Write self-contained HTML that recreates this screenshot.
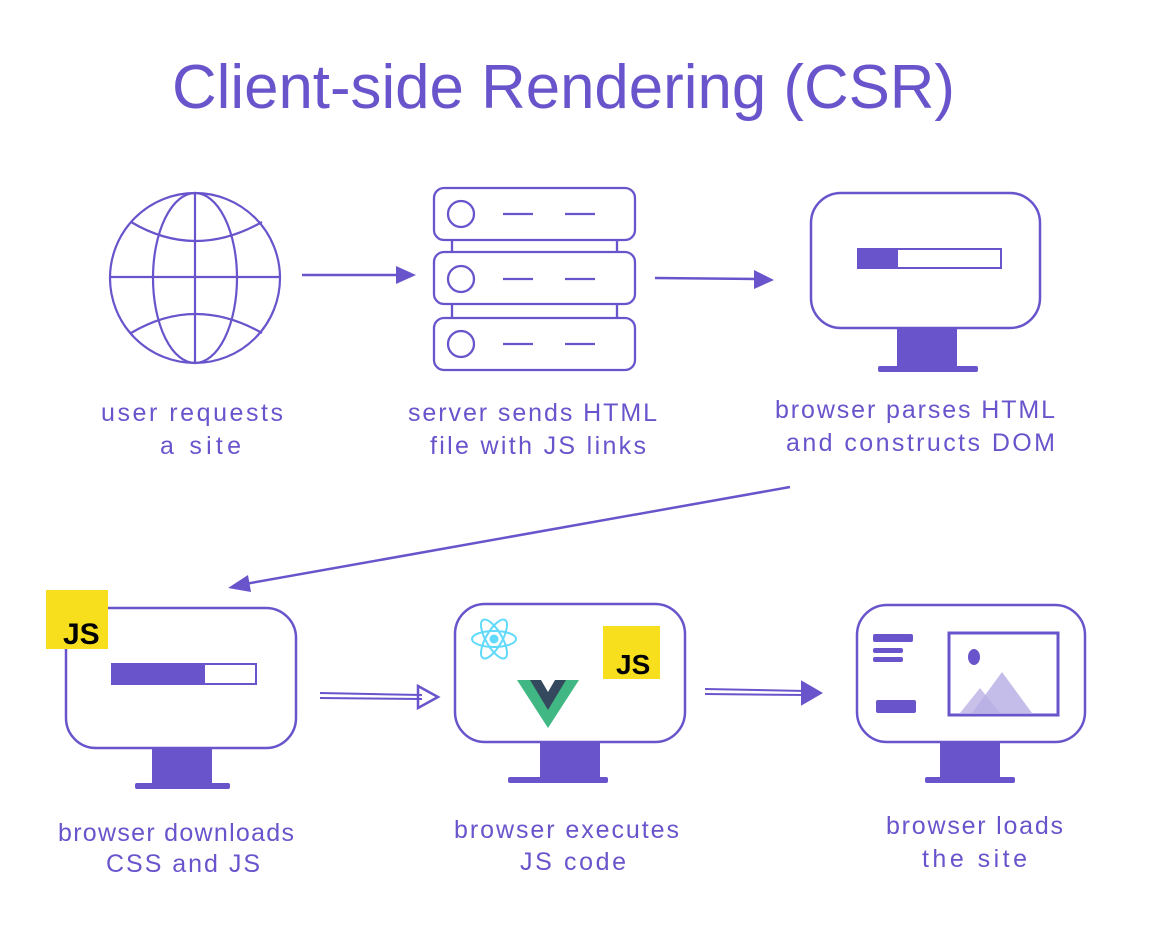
<!DOCTYPE html>
<html><head><meta charset="utf-8"><style>
html,body{margin:0;padding:0;background:#fff;}
svg{display:block;}
text{font-family:"Liberation Sans",sans-serif;fill:#6a54cc;}
</style></head><body>
<svg width="1162" height="932" viewBox="0 0 1162 932" xmlns="http://www.w3.org/2000/svg">
<text x="172" y="108" font-size="62" textLength="783" lengthAdjust="spacingAndGlyphs">Client-side Rendering (CSR)</text>

<!-- globe -->
<g fill="none" stroke="#6a54cc" stroke-width="2.2">
<circle cx="195" cy="278" r="85"/>
<ellipse cx="195" cy="278" rx="42" ry="85"/>
<line x1="195" y1="193" x2="195" y2="363"/>
<line x1="110" y1="277" x2="280" y2="277"/>
<path d="M131 222 Q195 260 262 222"/>
<path d="M131 333 Q195 295 262 333"/>
</g>
<line x1="302" y1="275" x2="400" y2="275" stroke="#6a54cc" stroke-width="2.5"/>
<polygon points="396,266 416,275 396,284" fill="#6a54cc"/>

<!-- server -->
<g fill="none" stroke="#6a54cc" stroke-width="2.3">
<rect x="434" y="188" width="201" height="52" rx="10"/>
<rect x="434" y="252" width="201" height="52" rx="10"/>
<rect x="434" y="318" width="201" height="52" rx="10"/>
<circle cx="461" cy="214" r="13"/><circle cx="461" cy="279" r="13"/><circle cx="461" cy="344" r="13"/>
<path d="M503 214h30M565 214h30M503 279h30M565 279h30M503 344h30M565 344h30"/>
<path d="M452 240v12M617 240v12M452 304v14M617 304v14"/>
</g>
<line x1="655" y1="278" x2="758" y2="279" stroke="#6a54cc" stroke-width="2.5"/>
<polygon points="754,270 774,280 754,289" fill="#6a54cc"/>

<!-- monitor 1 -->
<g stroke="#6a54cc" stroke-width="2.5">
<rect x="811" y="193" width="229" height="135" rx="30" fill="none"/>
<rect x="858" y="249" width="143" height="19" fill="none" stroke-width="2"/>
</g>
<rect x="858" y="249" width="40" height="19" fill="#6a54cc"/>
<rect x="897" y="328" width="60" height="40" fill="#6a54cc"/>
<rect x="878" y="366" width="100" height="6" rx="2" fill="#6a54cc"/>

<g font-size="25" lengthAdjust="spacingAndGlyphs">
<text x="101" y="421" textLength="182">user requests</text>
<text x="160" y="454" textLength="81">a site</text>
<text x="408" y="421" textLength="249">server sends HTML</text>
<text x="430" y="454" textLength="216">file with JS links</text>
<text x="775" y="418" textLength="280">browser parses HTML</text>
<text x="786" y="451" textLength="269">and constructs DOM</text>
<text x="58" y="841" textLength="236">browser downloads</text>
<text x="106" y="872" textLength="154">CSS and JS</text>
<text x="454" y="838" textLength="225">browser executes</text>
<text x="520" y="870" textLength="106">JS code</text>
<text x="886" y="834" textLength="177">browser loads</text>
<text x="922" y="867" textLength="105">the site</text>
</g>

<!-- long arrow -->
<line x1="790" y1="487" x2="245" y2="584" stroke="#6a54cc" stroke-width="2.5"/>
<polygon points="228,588 248,575 251,592" fill="#6a54cc"/>

<!-- bottom monitor 1 -->
<rect x="66" y="608" width="230" height="140" rx="30" fill="none" stroke="#6a54cc" stroke-width="2.5"/>
<rect x="112" y="664" width="144" height="20" fill="none" stroke="#6a54cc" stroke-width="2"/>
<rect x="112" y="664" width="93" height="20" fill="#6a54cc"/>
<rect x="152" y="748" width="60" height="38" fill="#6a54cc"/>
<rect x="135" y="783" width="95" height="6" rx="2" fill="#6a54cc"/>
<rect x="46" y="590" width="62" height="59" fill="#f7df1e"/>
<text x="63" y="644" font-size="30" font-weight="bold" style="fill:#000">JS</text>

<line x1="320" y1="693" x2="422" y2="695" stroke="#6a54cc" stroke-width="2"/>
<line x1="320" y1="698" x2="422" y2="699" stroke="#6a54cc" stroke-width="2"/>
<polygon points="418,686 438,697 418,708" fill="none" stroke="#6a54cc" stroke-width="2.5"/>

<!-- bottom monitor 2 -->
<rect x="455" y="604" width="230" height="138" rx="30" fill="none" stroke="#6a54cc" stroke-width="2.5"/>
<rect x="540" y="742" width="60" height="38" fill="#6a54cc"/>
<rect x="508" y="777" width="100" height="6" rx="2" fill="#6a54cc"/>
<g fill="none" stroke="#61dafb" stroke-width="2">
<ellipse cx="494" cy="639" rx="22" ry="8"/>
<ellipse cx="494" cy="639" rx="22" ry="8" transform="rotate(60 494 639)"/>
<ellipse cx="494" cy="639" rx="22" ry="8" transform="rotate(-60 494 639)"/>
</g>
<circle cx="494" cy="639" r="4.5" fill="#61dafb"/>
<rect x="603" y="626" width="57" height="53" fill="#f7df1e"/>
<text x="616" y="674" font-size="28" font-weight="bold" style="fill:#000">JS</text>
<polygon points="517,680 579,680 548,728" fill="#41b883"/>
<polygon points="530,680 566,680 548,710" fill="#35495e"/>
<polygon points="541,680 555,680 548,692" fill="#fff"/>

<line x1="705" y1="689" x2="806" y2="691" stroke="#6a54cc" stroke-width="2"/>
<line x1="705" y1="694" x2="806" y2="695" stroke="#6a54cc" stroke-width="2"/>
<polygon points="802,682 821,693 802,704" fill="#6a54cc" stroke="#6a54cc" stroke-width="2"/>

<!-- bottom monitor 3 -->
<rect x="857" y="605" width="228" height="137" rx="30" fill="none" stroke="#6a54cc" stroke-width="2.5"/>
<rect x="940" y="742" width="60" height="38" fill="#6a54cc"/>
<rect x="925" y="777" width="90" height="6" rx="2" fill="#6a54cc"/>
<rect x="873" y="634" width="40" height="8" rx="2" fill="#6a54cc"/>
<rect x="873" y="648" width="30" height="5" rx="2" fill="#6a54cc"/>
<rect x="873" y="657" width="30" height="5" rx="2" fill="#6a54cc"/>
<rect x="876" y="700" width="40" height="13" rx="2" fill="#6a54cc"/>
<polygon points="960,713 980,688 1000,713" fill="#c9c1ea"/>
<polygon points="972,713 1002,672 1032,713" fill="#b7ace4" opacity="0.8"/>
<rect x="949" y="633" width="109" height="82" fill="none" stroke="#6a54cc" stroke-width="3"/>
<ellipse cx="974" cy="657" rx="6" ry="8" fill="#6a54cc"/>
</svg>
</body></html>
